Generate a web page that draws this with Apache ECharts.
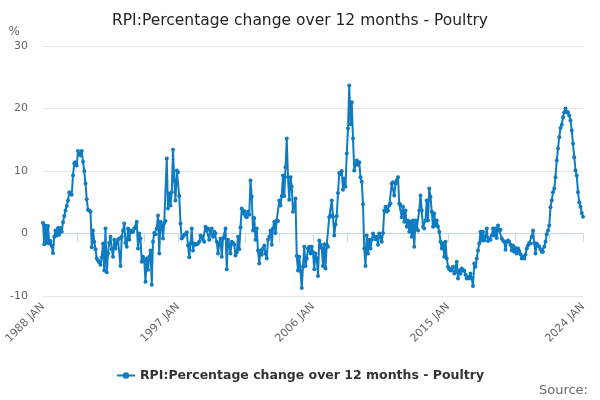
<!DOCTYPE html>
<html><head><meta charset="utf-8">
<script src="https://cdn.jsdelivr.net/npm/echarts@6/dist/echarts.min.js"></script>
<style>html,body{margin:0;padding:0;background:#fff}#c{width:600px;height:400px}</style>
</head><body><div id="c"></div>
<script>
var startYear = 1988;
var monthNames = ['JAN','FEB','MAR','APR','MAY','JUN','JUL','AUG','SEP','OCT','NOV','DEC'];
var seriesName = 'RPI:Percentage change over 12 months - Poultry';
var yTicks = [-10, 0, 10, 20, 30];

// 1988 JAN - 1993 DEC
var values1988 = [1.7,-1.7,1.3,-1.5,1.2,-1.6,-1.2,-2.0,-3.1,-0.5,0.5,-0.3,
  0.9,-0.2,0.9,0.3,1.8,2.8,3.7,4.4,5.3,6.6,6.3,6.2,
  9.3,11.2,11.4,10.9,13.2,12.7,12.5,13.2,11.5,10.0,8.0,5.5,
  3.8,3.7,3.5,-2.2,0.5,-1.3,-2.5,-4.0,-4.3,-4.6,-5.0,-3.8,
  -1.6,-5.9,0.8,-6.2,-3.2,-1.5,-0.5,-2.5,-3.7,-1.0,-2.4,-1.5,
  -1.0,-0.8,-5.2,-0.5,0.5,1.6,-1.5,-2.1,0.8,-1.0,0.5,0.2];
// 1994 JAN - 1999 DEC
var values1994 = [0.3,0.8,1.0,1.9,-2.4,0.0,-0.8,-4.5,-3.7,-4.3,-7.7,-4.0,
  -5.8,-3.7,-2.7,-8.2,-1.3,0.1,-0.1,0.8,2.9,-3.2,1.9,1.3,
  -0.8,1.7,2.0,12.0,4.0,6.4,4.5,6.6,13.4,8.5,5.3,10.1,
  9.8,6.0,1.6,-0.8,-0.5,-0.2,-0.1,0.2,-1.9,-3.8,-1.6,0.8,
  -2.7,-1.6,-1.8,-1.7,-1.6,-1.3,-0.3,-0.5,-1.0,-1.3,1.1,0.5,
  0.8,-1.0,0.5,0.8,-0.5,0.3,0.0,-1.3,-3.2,-1.6,-0.8,-3.7];
// 2000 JAN - 2005 DEC
var values2000 = [-0.8,-0.5,0.8,-5.7,-1.0,-1.8,-3.2,-1.3,-1.5,-1.8,-3.5,-3.0,
  -0.5,-2.5,1.0,4.0,3.2,3.6,2.8,2.6,3.5,3.0,8.5,5.9,
  0.5,2.5,-1.0,0.8,-2.7,-4.8,-2.7,-3.4,-2.4,-1.9,-3.2,-4.0,
  -1.0,-0.5,0.5,-1.8,0.8,1.9,0.1,2.1,2.0,5.3,4.5,6.0,
  9.3,6.0,10.6,15.2,9.0,5.4,9.0,7.5,3.5,4.3,5.6,-3.6,
  -5.9,-3.7,-6.0,-8.7,-5.3,-2.1,-5.2,-4.0,-2.4,-2.1,-3.2,-2.1];
// 2006 JAN - 2011 DEC
var values2006 = [-3.0,-5.7,-3.2,-4.0,-6.8,-1.1,-1.8,-2.3,-5.2,-1.7,-5.6,-1.8,
  -2.1,2.6,2.9,5.3,2.7,-0.3,1.5,2.8,6.5,9.7,9.5,10.0,
  7.0,8.8,7.5,12.8,16.8,23.7,17.5,21.0,15.2,10.1,11.0,11.7,
  11.0,11.4,9.0,8.3,4.7,-2.4,-5.2,-0.3,-3.2,-1.0,-2.4,-1.0,
  0.0,-0.5,-0.9,-0.5,-1.8,0.0,-0.5,-1.3,0.1,3.7,4.3,3.5,
  3.7,4.5,4.8,8.0,8.2,6.1,8.0,8.5,9.0,4.8,4.6,2.6];
// 2012 JAN - 2017 DEC
var values2012 = [4.3,1.9,3.7,1.1,2.1,0.3,1.9,-0.5,2.1,-2.1,2.1,0.8,
  0.5,3.7,6.1,3.7,1.1,0.8,2.1,5.3,2.1,7.2,5.9,3.5,
  1.1,3.2,1.3,2.1,1.1,0.3,-1.3,-2.4,-1.6,-3.7,-1.3,-4.0,
  -5.3,-5.7,-5.9,-5.6,-5.3,-6.4,-6.1,-4.5,-7.2,-5.9,-6.4,-5.6,
  -5.9,-5.9,-6.6,-7.2,-6.9,-7.2,-6.4,-7.2,-8.4,-4.8,-5.3,-4.0,
  -2.7,-1.6,0.3,-1.1,0.3,-1.1,-0.5,0.8,-1.2,-0.8,-1.0,-0.3];
// 2018 JAN - 2024 JAN
var values2018 = [0.8,-0.3,0.8,-0.7,1.3,0.5,0.6,-0.8,-1.1,-1.3,-2.6,-1.3,
  -1.1,-1.3,-1.8,-2.7,-1.9,-2.9,-2.3,-3.2,-2.4,-2.8,-3.3,-4.0,
  -3.7,-4.0,-3.4,-2.4,-1.9,-1.5,-1.6,-0.5,0.5,-1.5,-3.2,-1.6,
  -1.9,-2.1,-2.5,-2.9,-2.9,-2.1,-1.3,-0.1,0.5,1.3,4.2,5.3,
  6.6,7.2,9.0,11.7,13.6,15.4,16.9,17.4,18.6,19.4,20.0,19.4,
  19.4,18.9,18.1,16.5,14.4,12.2,10.1,9.3,6.6,5.0,4.3,3.3,
  2.7];

var values = [].concat(values1988, values1994, values2000, values2006, values2012, values2018);
var categories = [];
for (var i = 0; i < values.length; i++) {
  categories.push((startYear + Math.floor(i / 12)) + ' ' + monthNames[i % 12]);
}

var font = 'DejaVu Sans';
var chart = echarts.init(document.getElementById('c'));
chart.setOption({
  animation: false,
  textStyle: { fontFamily: font },
  title: {
    text: 'RPI:Percentage change over 12 months - Poultry',
    left: 'center', top: 8,
    textStyle: { fontFamily: font, fontSize: 15.5, fontWeight: 'normal', color: '#222' }
  },
  legend: {
    data: [seriesName],
    bottom: 13, left: 'center',
    itemWidth: 18, itemHeight: 8,
    textStyle: { fontFamily: font, fontSize: 12.5, fontWeight: 'bold', color: '#333' }
  },
  graphic: [{
    type: 'text', right: 12, bottom: 3,
    style: { text: 'Source:', fontFamily: font, fontSize: 13, fill: '#666' }
  }],
  grid: { left: 43, right: 17, top: 46, bottom: 104 },
  xAxis: {
    type: 'category',
    data: categories,
    boundaryGap: false,
    axisLine: { lineStyle: { color: '#ccd6eb' } },
    axisTick: { interval: 26, length: 9, lineStyle: { color: '#ccd6eb' } },
    axisLabel: { interval: 107, rotate: 45, color: '#666', fontSize: 11, margin: 9, fontFamily: font },
    splitLine: { show: false }
  },
  yAxis: {
    type: 'value',
    min: yTicks[0], max: yTicks[yTicks.length - 1], interval: 10,
    name: '%',
    nameLocation: 'end',
    nameGap: 8,
    nameTextStyle: { color: '#666', fontSize: 12, align: 'right', padding: [0, 23, 0, 0], fontFamily: font },
    axisLine: { show: false },
    axisTick: { show: false },
    axisLabel: { color: '#666', fontSize: 11, margin: 15, fontFamily: font },
    splitLine: { lineStyle: { color: '#e6e6e6' } }
  },
  series: [{
    name: seriesName,
    type: 'line',
    data: values,
    symbol: 'circle',
    symbolSize: 4,
    showAllSymbol: true,
    lineStyle: { width: 2, color: '#0f7bc1' },
    itemStyle: { color: '#0f7bc1' }
  }]
});
</script>
</body></html>
